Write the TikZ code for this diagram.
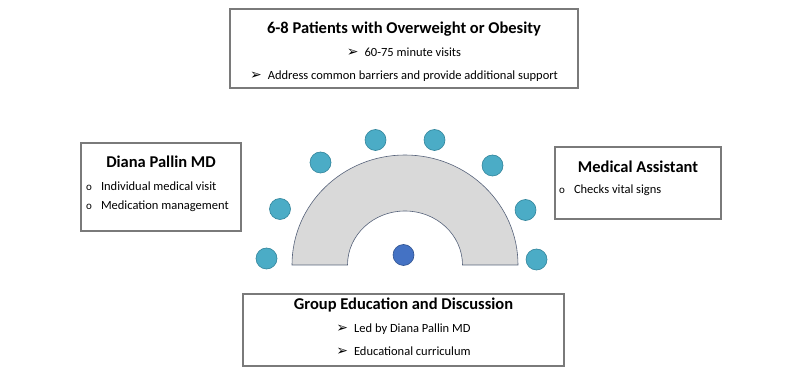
\documentclass[tikz,border=0pt]{standalone}
\usepackage{fontspec}
\setmainfont{Carlito}
\newfontfamily\dvfont{DejaVu Sans}
\definecolor{boxline}{HTML}{7A7A7A}
\definecolor{seatfill}{HTML}{4BACC6}
\definecolor{seatline}{HTML}{31849B}
\definecolor{leadfill}{HTML}{4472C4}
\definecolor{leadline}{HTML}{2F528F}
\definecolor{archfill}{HTML}{D9D9D9}
\definecolor{archline}{HTML}{56627A}
\newcommand{\arrb}{{\dvfont\fontsize{14}{14}\selectfont ➢}\hspace{6pt}}
\newcommand{\circb}{{\fontsize{11}{11}\selectfont o}\hspace{9pt}}
\tikzset{
  infobox/.style={draw=boxline, line width=1.1pt, fill=white, inner sep=0pt},
  boxtitle/.style={font=\fontsize{16.5}{19}\selectfont\bfseries, inner sep=0pt},
  boxitem/.style={font=\fontsize{12.5}{15}\selectfont, inner sep=0pt},
  seat/.style={circle, draw=seatline, fill=seatfill, line width=0.6pt, minimum size=21pt, inner sep=0pt},
  leader/.style={circle, draw=leadline, fill=leadfill, line width=0.6pt, minimum size=21pt, inner sep=0pt}
}
\begin{document}
\begin{tikzpicture}[x=1pt,y=1pt]
\useasboundingbox (0,0) rectangle (800,372);
% boxes
\node[infobox, minimum width=348pt, minimum height=79pt] (topbox) at (404,323.5) {};
\node[infobox, minimum width=160pt, minimum height=88pt] (leftbox) at (161,185) {};
\node[infobox, minimum width=166pt, minimum height=72pt] (rightbox) at (638,189) {};
\node[infobox, minimum width=321pt, minimum height=72pt] (botbox) at (403.5,42) {};
% top box text
\node[boxtitle] (toptitle) at (404,343) {6-8 Patients with Overweight or Obesity};
\node[boxitem] (topitem1) at (404,320) {\arrb 60-75 minute visits};
\node[boxitem] (topitem2) at (404,296) {\arrb Address common barriers and provide additional support};
% left box text
\node[boxtitle] (lefttitle) at (161,210) {Diana Pallin MD};
\node[boxitem, anchor=west] (leftitem1) at (86,186) {\circb Individual medical visit};
\node[boxitem, anchor=west] (leftitem2) at (86,166) {\circb Medication management};
% right box text
\node[boxtitle] (righttitle) at (638,205) {Medical Assistant};
\node[boxitem, anchor=west] (rightitem1) at (559,182) {\circb Checks vital signs};
% bottom box text
\node[boxtitle] (bottitle) at (403.5,67) {Group Education and Discussion};
\node[boxitem] (botitem1) at (403.5,43) {\arrb Led by Diana Pallin MD};
\node[boxitem] (botitem2) at (403.5,21) {\arrb Educational curriculum};
% arch table
\draw[fill=archfill, draw=archline, line width=0.6pt]
  (292,107) arc[start angle=180, end angle=0, x radius=113, y radius=110]
  -- (462.5,107) arc[start angle=0, end angle=180, x radius=57.5, y radius=54]
  -- cycle;
% seats
\node[seat] (s1) at (266.5,113.5) {};
\node[seat] (s2) at (280,163) {};
\node[seat] (s3) at (320.5,209.5) {};
\node[seat] (s4) at (375.5,232) {};
\node[seat] (s5) at (434.5,232) {};
\node[seat] (s6) at (492.5,206.5) {};
\node[seat] (s7) at (525.5,162) {};
\node[seat] (s8) at (536.5,112.5) {};
\node[leader] (lead) at (403.5,117) {};
\end{tikzpicture}
\end{document}
